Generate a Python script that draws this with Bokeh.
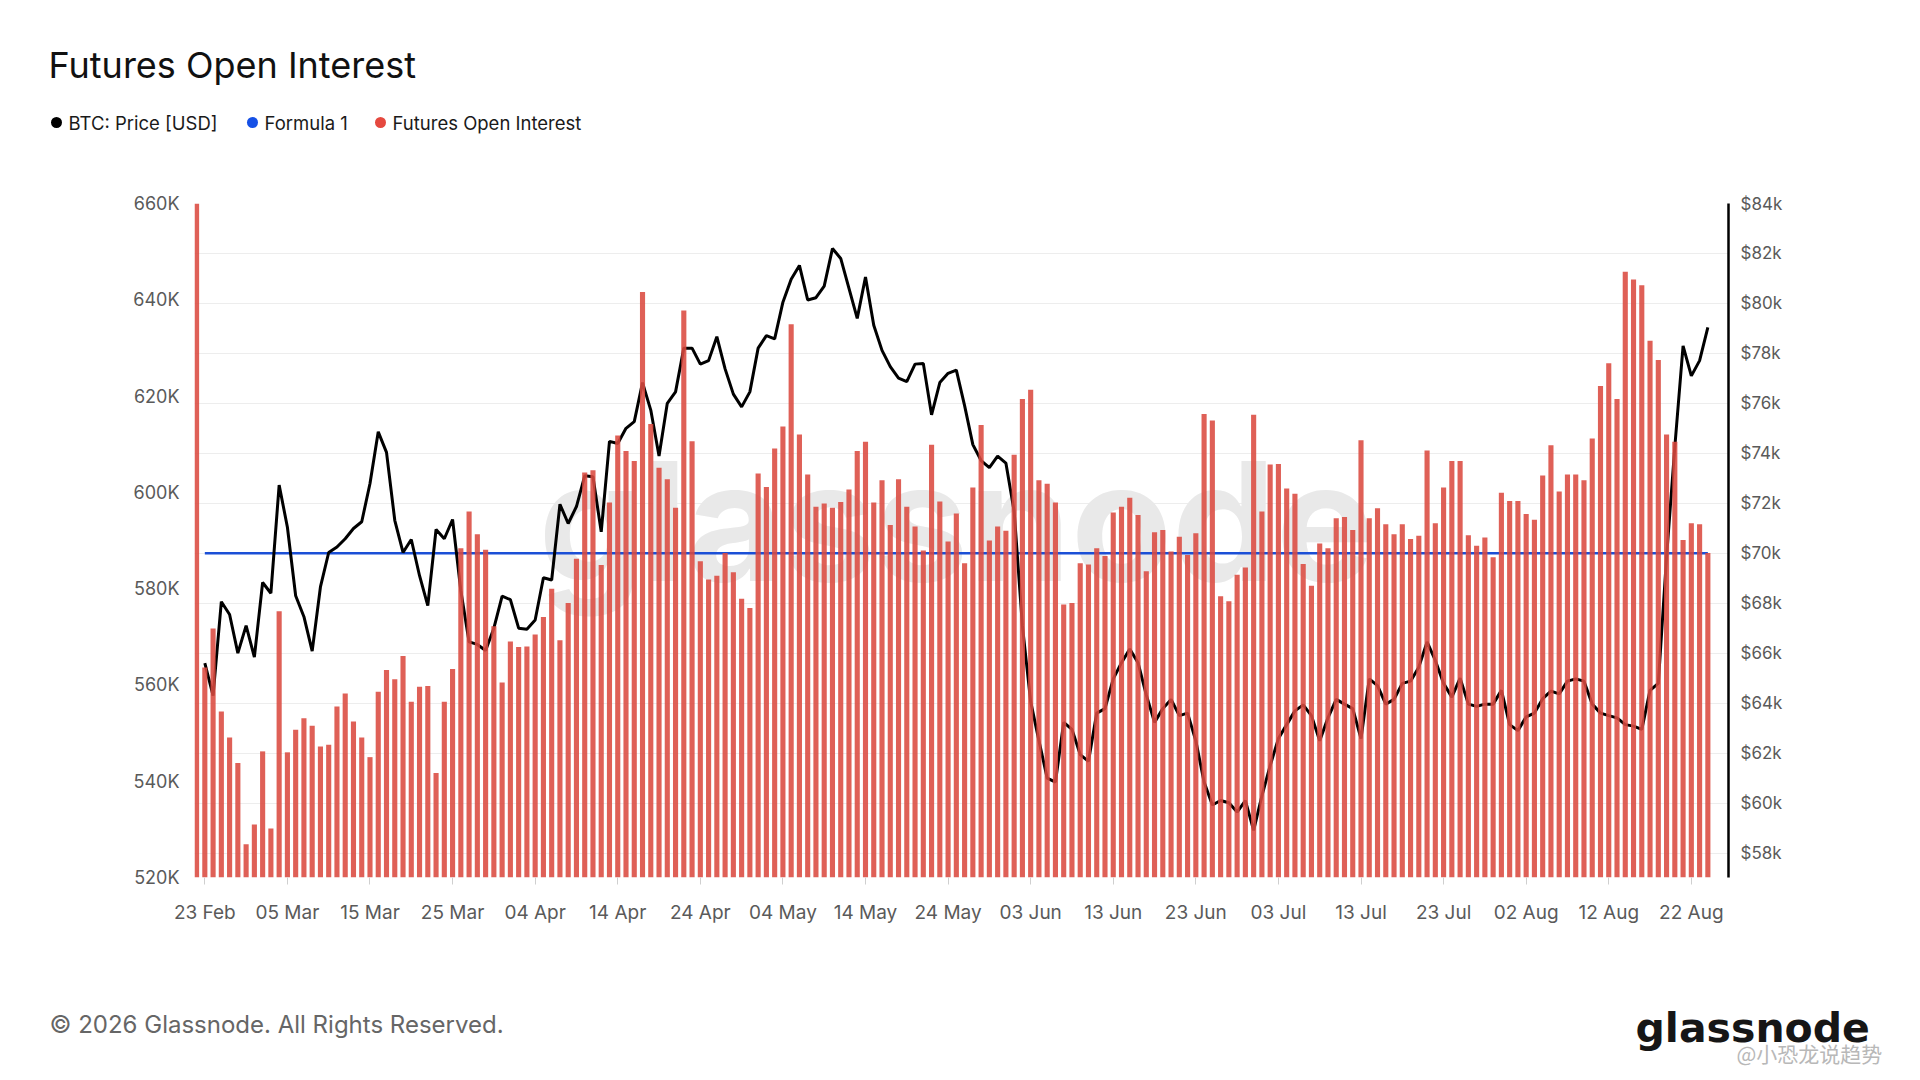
import pandas as pd
from bokeh.plotting import figure
from bokeh.layouts import column
from bokeh.core.properties import value
from bokeh.models import (Range1d, LinearAxis, FixedTicker, PrintfTickFormatter,
                          DatetimeTickFormatter, Grid, Label, ColumnDataSource)
from bokeh.embed import file_html
from bokeh.resources import INLINE

# ---------------- data ----------------
# Futures open interest, thousands, daily from 22 Feb
oi_feb = [660.0, 563.6, 571.7, 554.5, 549.1, 543.8, 526.9]
oi_mar = [531.0, 546.2, 530.2, 575.3, 546.0, 550.7, 553.1, 551.5, 547.2, 547.6,
          555.5, 558.2, 552.4, 549.1, 545.0, 558.6, 563.1, 561.2, 566.0, 556.5,
          559.6, 559.8, 541.7, 556.5, 563.3, 588.4, 596.0, 591.3, 588.1, 572.2, 560.5]
oi_apr = [569.0, 567.9, 568.0, 570.5, 574.1, 580.0, 569.3, 577.0, 586.2, 604.1,
          604.6, 584.9, 597.9, 611.8, 608.6, 606.5, 641.6, 614.2, 605.1, 602.7,
          596.8, 637.8, 610.6, 585.7, 581.9, 582.7, 587.4, 583.4, 577.9, 576.0]
oi_may = [603.9, 601.1, 609.1, 613.7, 634.9, 612.0, 603.7, 597.0, 597.7, 596.8,
          598.0, 600.6, 608.6, 610.5, 597.9, 602.5, 593.2, 602.7, 597.0, 592.9,
          587.9, 609.9, 598.1, 589.8, 595.6, 585.3, 601.0, 614.0, 590.0, 592.9, 592.0]
oi_jun = [607.8, 619.4, 621.3, 602.5, 601.8, 597.9, 576.7, 577.0, 585.3, 585.0,
          588.4, 586.8, 595.8, 597.0, 598.9, 595.3, 583.6, 591.7, 592.2, 587.7,
          590.8, 587.0, 591.5, 616.3, 614.9, 578.4, 577.4, 582.9, 584.4, 616.1]
oi_jul = [596.0, 605.8, 605.9, 600.8, 599.7, 585.1, 580.6, 589.4, 588.4, 594.6,
          594.9, 592.2, 610.8, 594.6, 596.7, 593.4, 591.3, 593.4, 590.3, 591.0,
          608.7, 593.6, 601.0, 606.5, 606.5, 591.1, 588.9, 590.6, 586.5, 599.9, 598.2]
oi_aug = [598.2, 595.5, 594.3, 603.5, 609.8, 600.2, 603.7, 603.7, 602.5, 611.2,
          622.1, 626.8, 619.4, 645.8, 644.2, 643.0, 631.5, 627.5, 612.0, 610.5,
          590.1, 593.6, 593.4, 587.4]

# BTC price, $k, daily from 23 Feb
px_feb = [65.6, 64.3, 68.06, 67.55, 66.0, 67.1]
px_mar = [65.84, 68.83, 68.4, 72.73, 71.04, 68.3, 67.46, 66.08, 68.65, 70.03,
          70.25, 70.58, 70.99, 71.26, 72.79, 74.86, 74.04, 71.32, 70.03, 70.55,
          69.1, 67.9, 70.95, 70.58, 71.35, 68.5, 66.45, 66.35, 66.11, 67.0, 68.28]
px_apr = [68.14, 67.0, 66.96, 67.33, 69.02, 68.93, 71.96, 71.19, 71.87, 73.1,
          73.06, 70.86, 74.48, 74.39, 75.0, 75.27, 76.83, 75.73, 73.89, 76.0,
          76.46, 78.21, 78.21, 77.57, 77.71, 78.67, 77.38, 76.37, 75.86, 76.46]
px_may = [78.21, 78.71, 78.58, 80.05, 80.97, 81.52, 80.14, 80.23, 80.69, 82.2,
          81.8, 80.6, 79.4, 81.06, 79.13, 78.12, 77.47, 77.01, 76.87, 77.57,
          77.6, 75.54, 76.83, 77.2, 77.33, 75.91, 74.35, 73.71, 73.43, 73.89, 73.61]
px_jun = [71.68, 67.09, 64.06, 62.5, 61.0, 60.84, 63.23, 62.95, 61.94, 61.67,
          63.6, 63.78, 64.97, 65.62, 66.17, 65.62, 64.33, 63.23, 63.78, 64.15,
          63.5, 63.6, 62.49, 60.84, 59.92, 60.1, 60.01, 59.64, 60.1, 58.91]
px_jul = [60.29, 61.5, 62.58, 63.14, 63.69, 63.93, 63.5, 62.49, 63.41, 64.15,
          63.96, 63.78, 62.58, 64.97, 64.7, 63.96, 64.15, 64.79, 64.88, 65.44,
          66.45, 65.71, 64.79, 64.24, 65.0, 63.96, 63.87, 63.96, 63.96, 64.51, 63.14]
px_aug = [62.9, 63.45, 63.6, 64.18, 64.48, 64.37, 64.88, 64.97, 64.88, 63.96,
          63.6, 63.5, 63.41, 63.14, 63.08, 62.95, 64.51, 64.79, 69.85, 74.26,
          78.3, 77.1, 77.71, 79.04]

formula_level = 70.0  # $k, flat "Formula 1" line

oi_ticks = [520, 540, 560, 580, 600, 620, 640, 660]
price_ticks = [58, 60, 62, 64, 66, 68, 70, 72, 74, 76, 78, 80, 82, 84]
x_tick_labels = ["23 Feb", "05 Mar", "15 Mar", "25 Mar", "04 Apr", "14 Apr", "24 Apr",
                 "04 May", "14 May", "24 May", "03 Jun", "13 Jun", "23 Jun", "03 Jul",
                 "13 Jul", "23 Jul", "02 Aug", "12 Aug", "22 Aug"]

title_text = "Futures Open Interest"
legend_names = ["BTC: Price [USD]", "Formula 1", "Futures Open Interest"]
legend_colors = ["#000000", "#1550e6", "#e5493f"]
footer_text = "\u00a9 2026 Glassnode. All Rights Reserved."
brand_text = "glassnode"
credit_text = "@小恐龙说趋势"

# ---------------- build ----------------
oi_values = oi_feb + oi_mar + oi_apr + oi_may + oi_jun + oi_jul + oi_aug
px_values = px_feb + px_mar + px_apr + px_may + px_jun + px_jul + px_aug
oi_dates = pd.date_range("2026-02-22", periods=len(oi_values), freq="D")
px_dates = pd.date_range("2026-02-23", periods=len(px_values), freq="D")

DAY = 86400000.0
def ms(ts):
    return pd.Timestamp(ts).value / 1e6

x_ticks = [ms(pd.Timestamp(lbl + " 2026")) for lbl in x_tick_labels]

oi_src = ColumnDataSource(dict(x=oi_dates, top=oi_values, bottom=[520] * len(oi_values)))
px_src = ColumnDataSource(dict(x=px_dates, y=px_values, f=[formula_level] * len(px_values)))

W = 1904
FONT = "Inter"
LBL = "#5a5a5a"

# ---- header figure (page pixel coordinates, y downward) ----
TOP_H = 183
hdr = figure(width=W, height=TOP_H, x_range=Range1d(0, W), y_range=Range1d(TOP_H, 0),
             output_backend="svg", toolbar_location=None, x_axis_location=None,
             y_axis_location=None, min_border=0, outline_line_color=None)
hdr.grid.visible = False
hdr.text(x=[48], y=[64], text=[title_text], text_font=value(FONT),
         text_font_size=value("36px"), text_color="#111111",
         text_align="left", text_baseline="middle")
leg_dot_x = [56, 252, 380]
leg_txt_x = [68, 264, 392]
hdr.scatter(x=leg_dot_x, y=[122] * 3, size=11, color=legend_colors, line_color=None)
hdr.text(x=leg_txt_x, y=[122] * 3, text=legend_names, text_font=value(FONT),
         text_font_size=value("18.5px"), text_color="#1a1a1a",
         text_align="left", text_baseline="middle")

# ---- main chart ----
MAIN_TOP, MAIN_H = 183, 777
x0 = ms("2026-02-23") - 1.25 * DAY
x1 = ms("2026-02-23") + 184.5 * DAY
p = figure(width=W, height=MAIN_H, x_axis_type="datetime", output_backend="svg",
           toolbar_location=None, x_range=Range1d(x0, x1), y_range=Range1d(520, 660),
           min_border_left=194, min_border_right=176, min_border_top=20,
           min_border_bottom=83, background_fill_color="white",
           border_fill_color="white", outline_line_color=None)
p.extra_y_ranges = {"price": Range1d(57.02, 84)}

p.xgrid.visible = False
p.ygrid.visible = False
p.add_layout(Grid(dimension=1, ticker=FixedTicker(ticks=price_ticks), y_range_name="price",
                  grid_line_color="#ededed", grid_line_width=1))

ya = p.yaxis[0]
ya.ticker = FixedTicker(ticks=oi_ticks)
ya.formatter = PrintfTickFormatter(format="%dK")
ya.axis_line_color = None
ya.major_tick_line_color = None
ya.minor_tick_line_color = None
ya.major_tick_out = 0
ya.major_label_standoff = 15
ya.major_label_text_font = FONT
ya.major_label_text_font_size = "18px"
ya.major_label_text_color = LBL

ra = LinearAxis(y_range_name="price", ticker=FixedTicker(ticks=price_ticks),
                formatter=PrintfTickFormatter(format="$%dk"))
ra.axis_line_color = "black"
ra.axis_line_width = 2.5
ra.major_tick_line_color = None
ra.minor_tick_line_color = None
ra.major_tick_out = 0
ra.major_tick_in = 0
ra.major_label_standoff = 12
ra.major_label_text_font = FONT
ra.major_label_text_font_size = "17px"
ra.major_label_text_color = LBL
p.add_layout(ra, "right")

xa = p.xaxis[0]
xa.ticker = FixedTicker(ticks=x_ticks)
xa.formatter = DatetimeTickFormatter(days="%d %b", months="%d %b", hours="%d %b",
                                     years="%d %b")
xa.axis_line_color = None
xa.major_tick_line_color = "#cfcfcf"
xa.major_tick_out = 7
xa.major_tick_in = 0
xa.minor_tick_line_color = None
xa.major_label_standoff = 16
xa.major_label_text_font = FONT
xa.major_label_text_font_size = "19px"
xa.major_label_text_color = LBL

# faint watermark in the plot area (frame-relative screen units)
p.add_layout(Label(x=762, y=357, x_units="screen", y_units="screen", text=brand_text,
                   text_font=FONT, text_font_size="165px", text_color="#e9e9e9",
                   text_font_style="bold", text_align="center", text_baseline="middle",
                   level="underlay"))

p.line("x", "f", source=px_src, y_range_name="price", line_color="#1b4fd6", line_width=2.5)
p.line("x", "y", source=px_src, y_range_name="price", line_color="black", line_width=3.0)
p.vbar(x="x", top="top", bottom="bottom", width=0.62 * DAY, source=oi_src,
       fill_color="#db4a40", fill_alpha=0.88, line_color=None)

# ---- footer figure (page pixel coordinates, y downward) ----
FOOT_TOP, FOOT_BOT = MAIN_TOP + MAIN_H, 1072
ftr = figure(width=W, height=FOOT_BOT - FOOT_TOP, x_range=Range1d(0, W),
             y_range=Range1d(FOOT_BOT, FOOT_TOP), output_backend="svg",
             toolbar_location=None, x_axis_location=None, y_axis_location=None,
             min_border=0, outline_line_color=None)
ftr.grid.visible = False
ftr.text(x=[49], y=[1024], text=[footer_text], text_font=value(FONT),
         text_font_size=value("24px"), text_color="#666666",
         text_align="left", text_baseline="middle")
ftr.text(x=[1635], y=[1027], text=[brand_text], text_font=value("DejaVu Sans"),
         text_font_size=value("41px"), text_color="#161616", text_font_style="bold",
         text_align="left", text_baseline="middle")
ftr.text(x=[1736], y=[1052], text=[credit_text], text_font=value("Noto Sans CJK SC"),
         text_font_size=value("21px"), text_color="#b8b8b8",
         text_align="left", text_baseline="middle")

# keep each figure's own frame (no cross-figure frame alignment)
for f in (hdr, p, ftr):
    try:
        f.frame_align = False
    except Exception:
        pass

layout = column(hdr, p, ftr, spacing=0)
open("out.html", "w").write(file_html(layout, INLINE))
